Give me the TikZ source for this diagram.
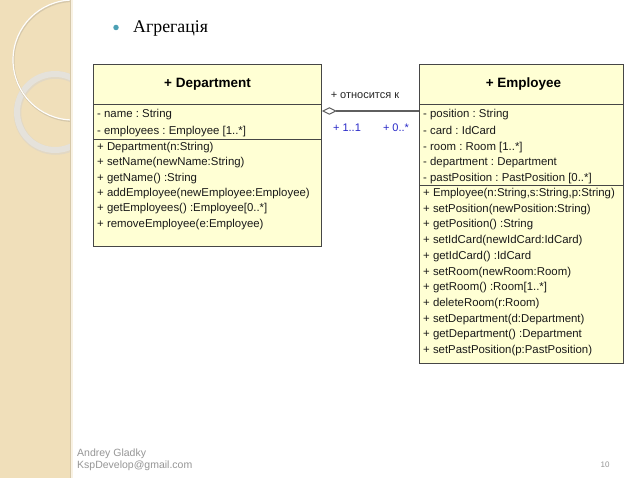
\documentclass[tikz,border=0pt]{standalone}
\usepackage{fontspec}
\setmainfont{Liberation Serif}
\newfontfamily\umlfont{Liberation Sans}
\usetikzlibrary{arrows.meta}
\frenchspacing
\definecolor{stripbg}{RGB}{240,223,186}
\definecolor{stripedge}{RGB}{214,200,170}
\definecolor{ringc}{RGB}{229,226,219}
\definecolor{boxfill}{RGB}{255,255,212}
\definecolor{boxline}{RGB}{70,70,70}
\definecolor{assocc}{RGB}{95,95,95}
\definecolor{multc}{RGB}{40,40,200}
\definecolor{bulletc}{RGB}{75,160,180}
\definecolor{footc}{RGB}{150,150,150}
\tikzset{
  classbox/.style={draw=boxline, fill=boxfill, line width=0.9pt, inner sep=0pt, anchor=north west},
  sepline/.style={draw=boxline, line width=0.9pt},
  hdr/.style={font=\umlfont\bfseries\fontsize{13.5}{16}\selectfont, inner sep=0pt, text=black},
  umltxt/.style={font=\umlfont\fontsize{11.4}{14}\selectfont, inner sep=0pt, anchor=base west, text=black!90},
  multtxt/.style={font=\umlfont\fontsize{11}{13}\selectfont, inner sep=0pt, text=multc},
  foottxt/.style={font=\umlfont\fontsize{10.5}{12}\selectfont, inner sep=0pt, anchor=base west, text=footc},
}
\begin{document}
\frenchspacing
\begin{tikzpicture}[x=1pt,y=-1pt]
\useasboundingbox (0,0) rectangle (638,478);
\fill[white] (0,0) rectangle (638,478);
% left decorative strip
\fill[stripbg] (0,0) rectangle (70,478);
\begin{scope}
  \clip (0,0) rectangle (70,478);
  \draw[stripedge!70, line width=7.5pt] (55.5,113) circle[radius=38pt];
  \draw[ringc, line width=6pt] (55,112) circle[radius=38pt];
  \draw[stripedge, line width=2pt] (73.5,61) circle[radius=60pt];
  \draw[white!95!stripbg, line width=1.2pt] (73,60) circle[radius=60pt];
\end{scope}
\draw[stripedge, line width=1.5pt] (70.5,0) -- (70.5,478);
\fill[stripbg!40] (71.3,0) rectangle (73,478);

% title
\node[circle, fill=bulletc, inner sep=0pt, minimum size=5.5pt] (bul) at (116,27.5) {};
\node[anchor=base west, inner sep=0pt, font=\fontsize{17.8}{20}\selectfont] (ttl) at (133,33) {Агрегація};

% Department class
\node[classbox, minimum width=228pt, minimum height=182pt] (dep) at (93,64) {};
\draw[sepline] ([yshift=-40pt]dep.north west) -- ([yshift=-40pt]dep.north east);
\draw[sepline] ([yshift=-75pt]dep.north west) -- ([yshift=-75pt]dep.north east);
\node[hdr] (deph) at (207.5,84.5) {+ Department};
\foreach \t/\yy [count=\i] in {{- name : String}/117.4, {- employees : Employee [1..*]}/134.8}
  \node[umltxt] (da\i) at (97,\yy) {\t};
\foreach \t [count=\i] in {{+ Department(n:String)},{+ setName(newName:String)},{+ getName() :String},{+ addEmployee(newEmployee:Employee)},{+ getEmployees() :Employee[0..*]},{+ removeEmployee(e:Employee)}}
  \node[umltxt] (dm\i) at (97,{150.2+15.45*(\i-1)}) {\t};

% Employee class
\node[classbox, minimum width=204pt, minimum height=299pt] (emp) at (419,64) {};
\draw[sepline] ([yshift=-40pt]emp.north west) -- ([yshift=-40pt]emp.north east);
\draw[sepline] ([yshift=-121pt]emp.north west) -- ([yshift=-121pt]emp.north east);
\node[hdr] (emph) at (523.5,84.5) {+ Employee};
\foreach \t/\yy [count=\i] in {{- position : String}/117.4, {- card : IdCard}/134.1, {- room : Room [1..*]}/150.1, {- department : Department}/165.1, {- pastPosition : PastPosition [0..*]}/181.8}
  \node[umltxt] (ea\i) at (423,\yy) {\t};
\foreach \t [count=\i] in {{+ Employee(n:String,s:String,p:String)},{+ setPosition(newPosition:String)},{+ getPosition() :String},{+ setIdCard(newIdCard:IdCard)},{+ getIdCard() :IdCard},{+ setRoom(newRoom:Room)},{+ getRoom() :Room[1..*]},{+ deleteRoom(r:Room)},{+ setDepartment(d:Department)},{+ getDepartment() :Department},{+ setPastPosition(p:PastPosition)}}
  \node[umltxt] (em\i) at (423,{196.6+15.7*(\i-1)}) {\t};

% aggregation
\coordinate (dcon) at ([yshift=-47pt]dep.north east);
\coordinate (econ) at ([yshift=-47pt]emp.north west);
\draw[assocc, line width=1.2pt, {Diamond[open, length=15pt, width=7.5pt, fill=white, line width=1pt]}-] (dcon) -- (econ);
\node[font=\umlfont\fontsize{11}{13}\selectfont, inner sep=0pt, text=black!85] (rel) at (365,95.5) {+ относится к};
\node[multtxt] (m1) at (347,128) {+ 1..1};
\node[multtxt] (m2) at (396,128) {+ 0..*};

% footer
\node[foottxt] (au) at (77,457) {Andrey Gladky};
\node[foottxt] (mail) at (77,468.5) {KspDevelop@gmail.com};
\node[font=\umlfont\fontsize{8}{10}\selectfont, inner sep=0pt, text=footc] (pg) at (605,464.5) {10};
\end{tikzpicture}
\end{document}
